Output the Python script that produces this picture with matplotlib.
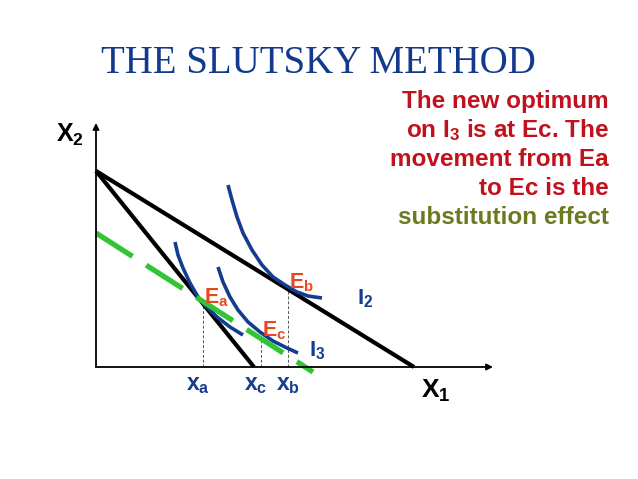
import matplotlib
matplotlib.use("Agg")
import matplotlib.pyplot as plt

# --- colours ---
azul_titulo = "#12398c"
azul = "#143d8f"
verde = "#33c433"
laranja = "#e8481f"
vermelho = "#c0121e"
oliva = "#6b7a1e"

plt.rcParams["font.family"] = ["Liberation Sans", "DejaVu Sans"]
plt.rcParams["mathtext.fontset"] = "custom"
plt.rcParams["mathtext.rm"] = "Liberation Sans:bold"
plt.rcParams["mathtext.it"] = "Liberation Sans:bold"
plt.rcParams["mathtext.bf"] = "Liberation Sans:bold"

# --- data (units: pixels from the origin, y up) ---
# budget lines
orcamento_a_x = [0, 158]
orcamento_a_y = [196, 0]
orcamento_b_x = [0, 318]
orcamento_b_y = [196, 0]
# compensated budget line (green dashed)
compensada_x = [0, 217]
compensada_y = [134, -5]

# indifference curves
curva_a_x = [79, 82, 87, 94, 102, 111, 121, 134, 147]
curva_a_y = [125, 112, 99, 84, 70, 60, 50, 40, 32]
curva_b_x = [132, 136, 141, 147, 156, 166, 177, 189, 201, 212, 226]
curva_b_y = [182, 167, 150, 134, 117, 102, 90, 82, 75, 71, 69]
curva_c_x = [122, 127, 134, 142, 152, 164, 177, 191, 202]
curva_c_y = [100, 85, 70, 57, 45, 35, 26, 19, 14]

# equilibrium points
pontos_nome = ["a", "c", "b"]
pontos_x = [107, 164.5, 192]
pontos_y = [64, 30, 78]

# axes ends
eixo_x_fim = 397
eixo_y_fim = 244

ORIGEM = (96, 367)


def px(x, y):
    # pixel position in the picture -> data coordinates
    return x - ORIGEM[0], ORIGEM[1] - y


fig = plt.figure(figsize=(6.38, 4.79), dpi=100)
ax = fig.add_axes([0, 0, 1, 1])
ax.set_xlim(-ORIGEM[0], 638 - ORIGEM[0])
ax.set_ylim(ORIGEM[1] - 479, ORIGEM[1])
ax.axis("off")

# axes with arrows
ax.annotate("", xy=(eixo_x_fim, 0), xytext=(0, 0),
            arrowprops=dict(arrowstyle="-|>", lw=1.3, color="black", mutation_scale=9,
                            shrinkA=0, shrinkB=0))
ax.annotate("", xy=(0, eixo_y_fim), xytext=(0, 0),
            arrowprops=dict(arrowstyle="-|>", lw=1.3, color="black", mutation_scale=9,
                            shrinkA=0, shrinkB=0))

# vertical dotted guides
for x, y in zip(pontos_x, pontos_y):
    ax.plot([x, x], [0, y], color="#555555", lw=0.7, linestyle=(0, (3, 2)))

# budget lines
ax.plot(orcamento_a_x, orcamento_a_y, color="black", lw=3.0, solid_capstyle="butt")
ax.plot(orcamento_b_x, orcamento_b_y, color="black", lw=3.0, solid_capstyle="butt")

# indifference curves
for cx, cy in [(curva_a_x, curva_a_y), (curva_b_x, curva_b_y), (curva_c_x, curva_c_y)]:
    ax.plot(cx, cy, color=azul, lw=2.6, solid_capstyle="butt", solid_joinstyle="round")

# compensated line
ax.plot(compensada_x, compensada_y, color=verde, lw=3.8, dashes=(8.2, 3.1),
        dash_capstyle="butt")

# title
ax.text(*px(318, 73), "THE SLUTSKY METHOD", family="Liberation Serif", fontsize=28,
        color=azul_titulo, ha="center", va="baseline")

# axis labels
ax.text(*px(56, 142), r"X$_2$", fontsize=18, fontweight="bold", ha="left", va="baseline")
ax.text(*px(421, 398), r"X$_1$", fontsize=19, fontweight="bold", ha="left", va="baseline")

# x labels
for nome, cx in zip(pontos_nome, [198, 256, 288]):
    ax.text(*px(cx, 390), "x$_" + nome + "$", fontsize=16.5, fontweight="bold",
            color=azul, ha="center", va="baseline")

# equilibrium labels
for nome, (lx, ly) in zip(pontos_nome, [(204, 303), (262, 336), (289, 288)]):
    ax.text(*px(lx, ly), "E$_" + nome + "$", fontsize=15.5, fontweight="bold",
            color=laranja, ha="left", va="baseline")

# curve labels
ax.text(*px(357, 304), r"I$_2$", fontsize=16, fontweight="bold", color=azul,
        ha="left", va="baseline")
ax.text(*px(309, 356), r"I$_3$", fontsize=16, fontweight="bold", color=azul,
        ha="left", va="baseline")

# explanation on the right
linhas = ["The new optimum", r"on I$_3$ is at Ec. The", "movement from Ea",
          "to Ec is the", "substitution effect"]
cores = [vermelho, vermelho, vermelho, vermelho, oliva]
for i, (linha, cor) in enumerate(zip(linhas, cores)):
    ax.text(*px(609, 108 + 29 * i), linha, fontsize=17.5, fontweight="bold", color=cor,
            ha="right", va="baseline")

fig.savefig("out.png", dpi=100)
